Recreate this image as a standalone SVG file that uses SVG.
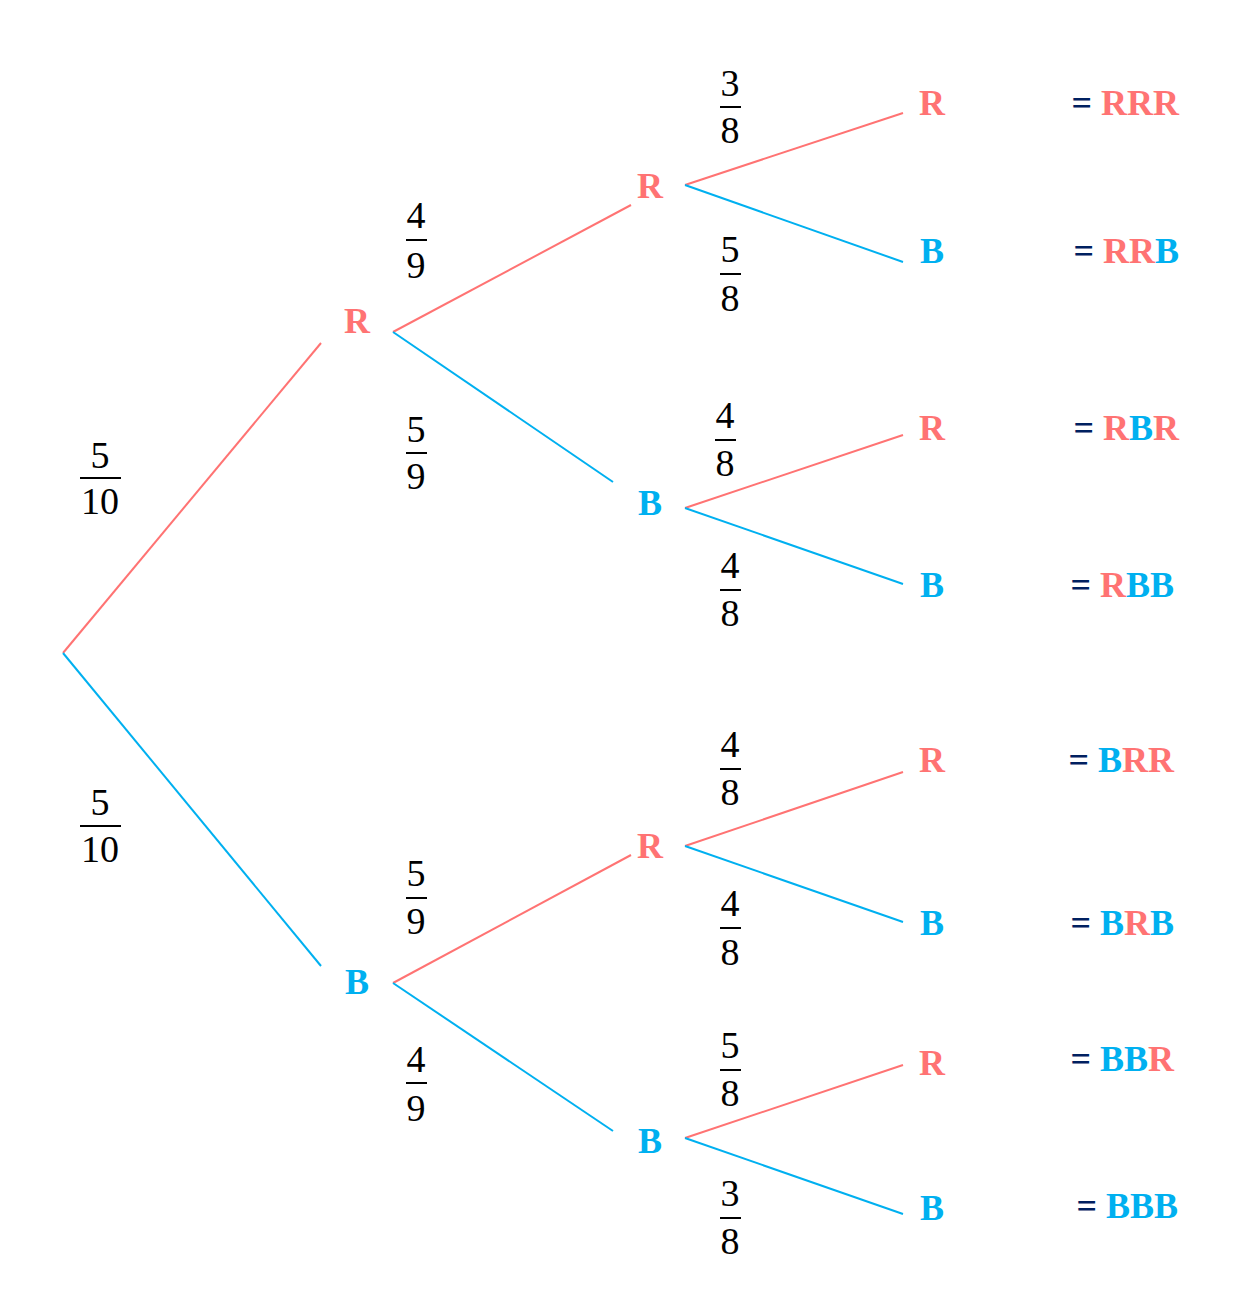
<svg xmlns="http://www.w3.org/2000/svg" width="1258" height="1302" viewBox="0 0 1258 1302">
<style>
.r{stroke:#FF7373;stroke-width:2;fill:none}.b{stroke:#00B0F0;stroke-width:2;fill:none}
text{font-family:"Liberation Serif",serif}
.n{font-size:36px;font-weight:bold;text-anchor:middle}
.fr text{font-size:38px;text-anchor:middle;fill:#000}
.fr line{stroke:#000;stroke-width:2}
.res{font-size:36px;font-weight:bold;text-anchor:end}
.R{fill:#FF7373}.B{fill:#00B0F0}.E{fill:#002060}
</style>
<rect width="1258" height="1302" fill="#fff"/>
<g id="connectors">
<line class="r" x1="63" y1="653" x2="321" y2="343"/><line class="b" x1="63" y1="653" x2="321" y2="966"/>
<line class="r" x1="393" y1="332" x2="631" y2="205"/><line class="b" x1="393" y1="332" x2="613" y2="482"/>
<line class="r" x1="393" y1="983" x2="631" y2="855"/><line class="b" x1="393" y1="983" x2="613" y2="1131"/>
<line class="r" x1="685" y1="185" x2="903" y2="113"/><line class="b" x1="685" y1="185" x2="903" y2="262"/>
<line class="r" x1="685" y1="508" x2="903" y2="435"/><line class="b" x1="685" y1="508" x2="903" y2="584"/>
<line class="r" x1="685" y1="846" x2="903" y2="772"/><line class="b" x1="685" y1="846" x2="903" y2="922"/>
<line class="r" x1="685" y1="1138" x2="903" y2="1065"/><line class="b" x1="685" y1="1138" x2="903" y2="1214"/>
</g>
<g class="fr">
<g id="f1"><text x="100" y="468">5</text><line x1="80" y1="478" x2="121" y2="478"/><text x="100" y="514">10</text></g>
<g id="f2"><text x="100" y="815">5</text><line x1="80" y1="826" x2="121" y2="826"/><text x="100" y="862">10</text></g>
<g id="f3"><text x="416" y="228">4</text><line x1="406" y1="240" x2="427" y2="240"/><text x="416" y="278">9</text></g>
<g id="f4"><text x="416" y="442">5</text><line x1="406" y1="453" x2="427" y2="453"/><text x="416" y="489">9</text></g>
<g id="f5"><text x="416" y="886">5</text><line x1="406" y1="898" x2="427" y2="898"/><text x="416" y="934">9</text></g>
<g id="f6"><text x="416" y="1072">4</text><line x1="406" y1="1083" x2="427" y2="1083"/><text x="416" y="1121">9</text></g>
<g id="f7"><text x="730" y="96">3</text><line x1="720" y1="107" x2="741" y2="107"/><text x="730" y="143">8</text></g>
<g id="f8"><text x="730" y="262">5</text><line x1="720" y1="274" x2="741" y2="274"/><text x="730" y="311">8</text></g>
<g id="f9"><text x="725" y="428">4</text><line x1="715" y1="440" x2="736" y2="440"/><text x="725" y="476">8</text></g>
<g id="f10"><text x="730" y="578">4</text><line x1="720" y1="590" x2="741" y2="590"/><text x="730" y="626">8</text></g>
<g id="f11"><text x="730" y="757">4</text><line x1="720" y1="769" x2="741" y2="769"/><text x="730" y="805">8</text></g>
<g id="f12"><text x="730" y="916">4</text><line x1="720" y1="928" x2="741" y2="928"/><text x="730" y="965">8</text></g>
<g id="f13"><text x="730" y="1058">5</text><line x1="720" y1="1070" x2="741" y2="1070"/><text x="730" y="1106">8</text></g>
<g id="f14"><text x="730" y="1206">3</text><line x1="720" y1="1218" x2="741" y2="1218"/><text x="730" y="1254">8</text></g>
</g>
<g id="nR1"><text class="n R" x="357" y="333">R</text></g>
<g id="nB1"><text class="n B" x="357" y="994">B</text></g>
<g id="nRR"><text class="n R" x="650" y="198">R</text></g>
<g id="nRB"><text class="n B" x="650" y="515">B</text></g>
<g id="nBR"><text class="n R" x="650" y="858">R</text></g>
<g id="nBB"><text class="n B" x="650" y="1153">B</text></g>
<g id="l1"><text class="n R" x="932" y="115">R</text></g>
<g id="l2"><text class="n B" x="932" y="263">B</text></g>
<g id="l3"><text class="n R" x="932" y="440">R</text></g>
<g id="l4"><text class="n B" x="932" y="597">B</text></g>
<g id="l5"><text class="n R" x="932" y="772">R</text></g>
<g id="l6"><text class="n B" x="932" y="935">B</text></g>
<g id="l7"><text class="n R" x="932" y="1075">R</text></g>
<g id="l8"><text class="n B" x="932" y="1220">B</text></g>
<g id="results">
<text class="res" x="1179" y="115"><tspan class="E">= </tspan><tspan class="R">RRR</tspan></text>
<text class="res" x="1179" y="263"><tspan class="E">= </tspan><tspan class="R">RR</tspan><tspan class="B">B</tspan></text>
<text class="res" x="1179" y="440"><tspan class="E">= </tspan><tspan class="R">R</tspan><tspan class="B">B</tspan><tspan class="R">R</tspan></text>
<text class="res" x="1174" y="597"><tspan class="E">= </tspan><tspan class="R">R</tspan><tspan class="B">BB</tspan></text>
<text class="res" x="1174" y="772"><tspan class="E">= </tspan><tspan class="B">B</tspan><tspan class="R">RR</tspan></text>
<text class="res" x="1174" y="935"><tspan class="E">= </tspan><tspan class="B">B</tspan><tspan class="R">R</tspan><tspan class="B">B</tspan></text>
<text class="res" x="1174" y="1071"><tspan class="E">= </tspan><tspan class="B">BB</tspan><tspan class="R">R</tspan></text>
<text class="res" x="1178" y="1218"><tspan class="E">= </tspan><tspan class="B">BBB</tspan></text>
</g>
</svg>
